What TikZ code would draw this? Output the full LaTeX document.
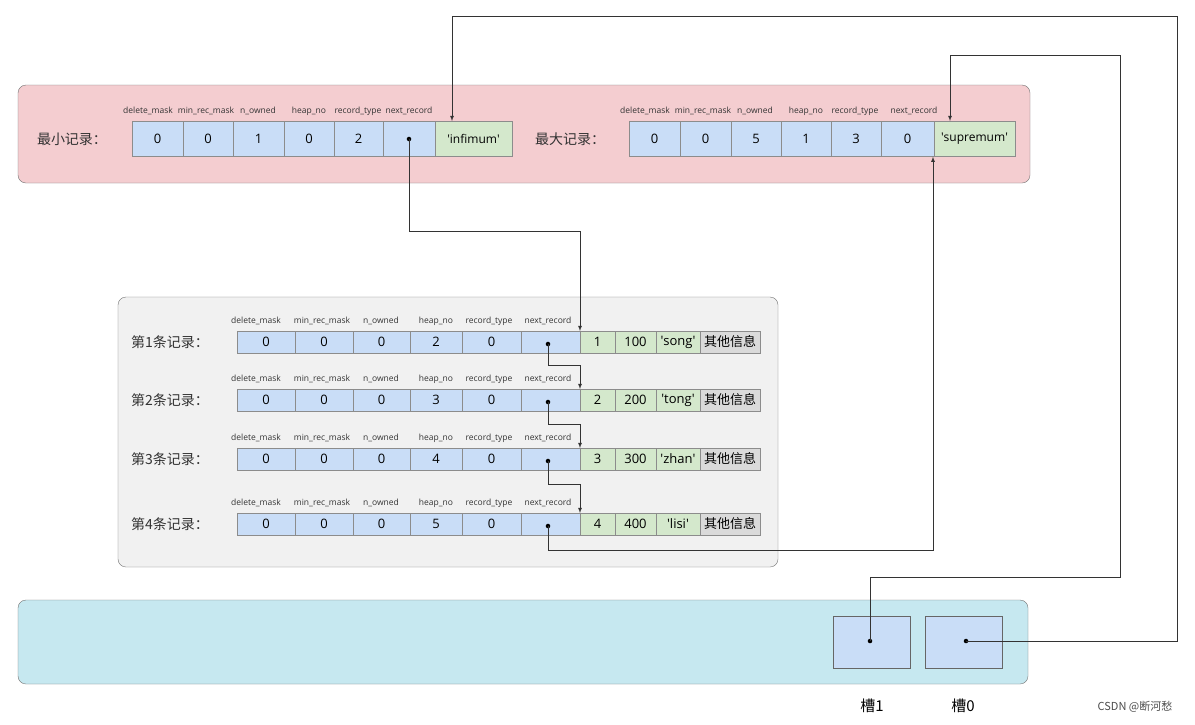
\documentclass[tikz,border=0pt]{standalone}
\usepackage{fontspec}
\setmainfont{Open Sans}[Ligatures=NoCommon]
\newfontfamily\cjk{Noto Sans CJK SC}
\newcommand\qq{\textquotesingle}
\begin{document}
\begin{tikzpicture}[x=1pt,y=-1pt,
 cell/.style={draw=black!45,minimum height=22pt,inner sep=0pt,font=\fontsize{13}{14}\selectfont},
 lab/.style={font=\fontsize{8.5}{9}\selectfont,text=black!80,inner sep=0pt},
 rl/.style={font=\cjk\fontsize{14}{15}\selectfont,text=black!80},
 ln/.style={draw=black!80,line width=0.8pt},
 arr/.style={ln,-latex},
 dot/.style={circle,fill=black,inner sep=1.6pt}]
\useasboundingbox (0,0) rectangle (1195,724);
\fill[white] (0,0) rectangle (1195,724);
\definecolor{pinkb}{HTML}{F4CDD0}
\definecolor{grayb}{HTML}{F1F1F1}
\definecolor{cyanb}{HTML}{C6E8F0}
\definecolor{bcell}{HTML}{C9DDF7}
\definecolor{gcl}{HTML}{D4E8CC}
\definecolor{ycl}{HTML}{DADADA}
\tikzset{cell/.append style={fill=bcell},gcell/.style={cell,fill=gcl},ycell/.style={cell,fill=ycl}}
\draw[black!55,fill=pinkb,rounded corners=8pt] (18,85) rectangle (1030,183);
\draw[black!55,fill=grayb,rounded corners=8pt] (118,297) rectangle (778,567);
\draw[black!55,fill=cyanb,rounded corners=8pt] (18,600) rectangle (1028,684);
% top records
\node[rl] at (72,139) {最小记录：};
\node[rl] at (570,139) {最大记录：};
\foreach \xa/\xb/\v/\n in {132/183/0/a1,183/233/0/a2,233/284/1/a3,284/334/0/a4,334/383/2/a5,383/435//a6}
  \node[cell,minimum width=\xb-\xa,minimum height=35pt] (\n) at ({(\xa+\xb)/2},139) {\v};
\node[gcell,minimum width=77,minimum height=35pt,font=\fontsize{12}{13}\selectfont] (inf) at (473.5,139) {\qq infimum\qq};
\foreach \xa/\xb/\v/\n in {629/680/0/b1,680/731/0/b2,731/781/5/b3,781/831/1/b4,831/881/3/b5,881/934/0/b6}
  \node[cell,minimum width=\xb-\xa,minimum height=35pt] (\n) at ({(\xa+\xb)/2},139) {\v};
\node[gcell,minimum width=81,minimum height=35pt,font=\fontsize{12}{13}\selectfont] (sup) at (974.5,139) {\qq supremum\qq};
\foreach \x/\t in {148/delete\_mask,206/min\_rec\_mask,258/n\_owned,309/heap\_no,358/record\_type,409/next\_record,
  645/delete\_mask,703/min\_rec\_mask,755/n\_owned,806/heap\_no,855/record\_type,914/next\_record}
  \node[lab] at (\x,111) {\t};
\node[dot] (infd) at (409,139) {};
% middle records
\foreach \r/\y/\h/\id/\nm/\k in {1/342/2/1/100/song,2/400/3/2/200/tong,3/459/4/3/300/zhan,4/524/5/4/400/lisi}{
  \node[rl] at (170,\y) {第\r 条记录：};
  \foreach \xa/\xb/\v/\c in {237/295/0/1,295/353/0/2,353/410/0/3,410/462/\h/4,462/521/0/5,521/580//6}
    \node[cell,minimum width=\xb-\xa] (r\r c\c) at ({(\xa+\xb)/2},\y) {\v};
  \node[gcell,minimum width=35] (r\r g1) at (597.5,\y) {\id};
  \node[gcell,minimum width=41] (r\r g2) at (635.5,\y) {\nm};
  \node[gcell,minimum width=44] (r\r g3) at (678,\y) {\qq\k\qq};
  \node[ycell,minimum width=60,font=\cjk\fontsize{13}{14}\selectfont] (r\r o) at (730,\y) {其他信息};
  \foreach \x/\t in {256/delete\_mask,322/min\_rec\_mask,381/n\_owned,436/heap\_no,489/record\_type,548/next\_record}
    \node[lab] at (\x,\y-21) {\t};
  \node[dot] (d\r) at (548,\y+2) {};
}
% slots
\node[draw=black!60,fill=bcell,minimum width=77,minimum height=52,inner sep=0pt] (s1) at (871.5,642) {};
\node[draw=black!60,fill=bcell,minimum width=77,minimum height=52,inner sep=0pt] (s0) at (963.5,642) {};
\node[font=\cjk\fontsize{15}{16}\selectfont] at (872,706) {槽1};
\node[font=\cjk\fontsize{15}{16}\selectfont] at (963,706) {槽0};
\node[font=\cjk\fontsize{11}{12}\selectfont,text=black!70] at (1135,707) {CSDN @断河愁};
\node[dot] (s1d) at (870,641) {};
\node[dot] (s0d) at (966,641) {};
% connectors
\coordinate (t1) at (580,331);
\coordinate (t2) at (580,389);
\coordinate (t3) at (580,448);
\coordinate (t4) at (580,513);
\draw[arr] (infd.center) -- (409,231) -- (580,231) -- (t1);
\draw[arr] (d1.center) -- (548,365) -- (580,365) -- (t2);
\draw[arr] (d2.center) -- (548,424) -- (580,424) -- (t3);
\draw[arr] (d3.center) -- (548,484) -- (580,484) -- (t4);
\draw[arr] (d4.center) -- (548,550) -- (933,550) -- (sup.south -| 933,0);
\draw[arr] (s0d.center) -- (1177,641) -- (1177,16) -- (452,16) -- (452,121);
\draw[arr] (s1d.center) -- (870,577) -- (1120,577) -- (1120,55) -- (950,55) -- (950,121);
\end{tikzpicture}
\end{document}
